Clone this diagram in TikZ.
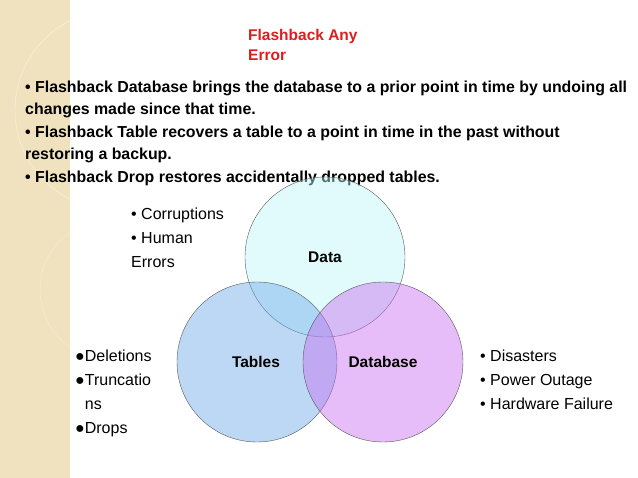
\documentclass[tikz,border=0pt]{standalone}
\usepackage{fontspec}
\setmainfont{Liberation Sans}
\definecolor{beige}{RGB}{240,226,190}
\definecolor{ttl}{RGB}{220,30,30}
\tikzset{x=1pt,y=-1pt,
 body/.style={anchor=west,inner sep=0,font=\fontsize{15.9}{18}\selectfont\bfseries},
 lst/.style={anchor=north west,inner sep=0,align=left,font=\fontsize{16}{24}\selectfont},
 lbl/.style={font=\fontsize{15.5}{18}\selectfont\bfseries},
 venn/.style={circle,draw=black!65,minimum size=160pt,inner sep=0,fill opacity=0.45}}
\begin{document}
\begin{tikzpicture}
\useasboundingbox (0,0) rectangle (638,478);
\fill[white] (0,0) rectangle (638,478);
\fill[beige] (0,0) rectangle (70,478);
\draw[white,line width=1pt,opacity=0.7] (70,0) -- (70,478);
\begin{scope}
\clip (0,0) rectangle (70,478);
\draw[white,opacity=0.6] (115,110) circle[radius=100];
\draw[white,opacity=0.4] (110,290) circle[radius=70];
\end{scope}
\node[anchor=west,inner sep=0,align=left,text=ttl,font=\fontsize{15.5}{20}\selectfont\bfseries] (t) at (248,45) {Flashback Any\\Error};
\node[body] (l1) at (25,88) {• Flashback Database brings the database to a prior point in time by undoing all};
\node[body] (l2) at (25,110.5) {changes made since that time.};
\node[body] (l3) at (25,133) {• Flashback Table recovers a table to a point in time in the past without};
\node[body] (l4) at (25,155.5) {restoring a backup.};
\node[body] (l5) at (25,178) {• Flashback Drop restores accidentally dropped tables.};
\node[venn,fill={rgb,255:red,190;green,245;blue,250}] (data) at (325,257) {};
\node[venn,fill={rgb,255:red,110;green,170;blue,235}] (tables) at (257,362) {};
\node[venn,fill={rgb,255:red,200;green,110;blue,240}] (db) at (383,362) {};
\node[lbl] (dl) at (325,257) {Data};
\node[lbl] (tl) at (256,362) {Tables};
\node[lbl] (bl) at (383,362) {Database};
\node[lst] (c) at (131,208) {• Corruptions\\• Human\\Errors};
\node[lst] (d) at (75,350) {●Deletions\\●Truncatio\\\phantom{●}ns\\●Drops};
\node[lst] (e) at (480,350) {• Disasters\\• Power Outage\\• Hardware Failure};
\end{tikzpicture}
\end{document}
